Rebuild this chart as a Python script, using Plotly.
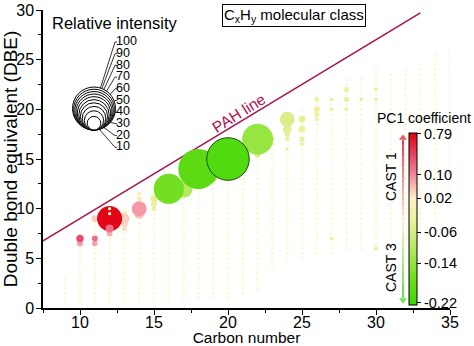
import plotly.graph_objects as go
import numpy as np

# ---------------- data ----------------
# faint dotted columns of assigned CxHy formulas: carbon number, lowest and highest DBE seen
faint_c = [9, 10, 11, 12, 13, 14, 15, 16, 17, 18, 19, 20, 21, 22, 23, 24, 25, 26, 27, 28, 29, 30, 31, 32, 33, 34, 35]
faint_low = [0.5, 0.5, 0.5, 0.5, 0.5, 0.5, 0.5, 0.5, 1, 1, 1, 1, 1.5, 2, 4, 5, 5, 5.5, 5.5, 6, 6, 6, 6.5, 7, 8, 9, 10]
faint_high = [3, 7.5, 8.5, 10, 10, 11, 12, 12, 13, 14, 15, 15, 16, 17, 17.5, 19.5, 20, 21, 21, 23, 23, 24, 23.5, 24, 24.5, 25.5, 26]
faint_int = 0.5
faint_col = 0.53

# visible bubbles (draw order): carbon number, DBE, relative intensity, colour position on the PC1 bar (0 bottom .. 1 top)
bub_c = [23, 23, 24, 24, 24, 24, 24, 25, 25, 25, 25, 26, 26, 26, 26, 27, 27, 28, 28, 28, 29, 30, 30, 30, 27,
         21, 22, 22, 19, 20, 18, 16, 15, 15, 15, 14, 14, 13, 13, 13, 11, 10, 11, 12, 13, 14, 14, 10, 11,
         17, 16, 22, 18, 20, 12, 12, 12, 12]
bub_dbe = [16.5, 17, 16, 17, 17.5, 18, 19, 16.5, 17, 18, 19, 19, 19.5, 20, 21, 20, 21, 20, 21, 22, 21, 21, 22, 6, 7,
           15, 15.5, 16, 13, 13, 12.5, 11, 10, 10.5, 11, 11, 11.5, 8, 8.5, 9.5, 9, 6.5, 6.5, 7.5, 9, 9.5, 10, 7, 7,
           12, 12, 17, 14, 15, 9, 8, 9.5, 10]
bub_int = [0.6, 0.9, 0.6, 1.0, 1.5, 4, 12, 0.8, 1.5, 2.5, 2.5, 0.8, 1.4, 2, 1.2, 0.8, 0.8, 0.9, 1.5, 1.4, 0.7, 0.8, 0.9, 1.2, 0.8,
           2.5, 2.5, 4, 2.5, 1.5, 4, 1.5, 1.3, 2, 2.6, 1.3, 0.8, 1.4, 2.6, 2, 2.6, 2.0, 1.6, 2, 5.4, 5.4, 12, 3, 2,
           17.5, 49, 52, 87, 98, 34, 3.5, 0.6, 0.6]
bub_col = [0.5, 0.48, 0.5, 0.5, 0.48, 0.46, 0.44, 0.5, 0.5, 0.5, 0.48, 0.5, 0.5, 0.5, 0.5, 0.5, 0.5, 0.5, 0.5, 0.5, 0.5, 0.5, 0.5, 0.52, 0.52,
           0.4, 0.42, 0.38, 0.38, 0.42, 0.36, 0.42, 0.5, 0.5, 0.48, 0.55, 0.55, 0.64, 0.65, 0.6, 0.66, 0.72, 0.72, 0.7, 0.66, 0.68, 0.73, 0.86, 0.8,
           0.33, 0.16, 0.25, 0.1, 0.07, 0.99, 0.8, 0.58, 0.58]

# PAH line (carbon number, DBE)
pah_c = [7.0, 33.0]
pah_dbe = [6.3, 29.7]

# size legend
legend_int = [100, 90, 80, 70, 60, 50, 40, 30, 20, 10]

# PC1 colour bar labels and their positions along the bar
pc1_labels = ["0.79", "0.10", "0.02", "-0.06", "-0.14", "-0.22"]
pc1_pos = [0.995, 0.756, 0.622, 0.424, 0.244, 0.012]

# ---------------- styling ----------------
FONT = "Arial, Liberation Sans, sans-serif"
K = 4.3  # px diameter per sqrt(intensity)
W, H = 474, 346
L, R, T, B = 43, 24, 10, 38
PW, PH = W - L - R, H - T - B

def px(x):
    return (x - L) / PW

def py(y):
    return (H - B - y) / PH

def ox(x):  # pixel -> overlay axis unit
    return x - L

def oy(y):
    return H - B - y

colorscale = [[0.0, '#3cd808'], [0.12, '#62dc16'], [0.24, '#92e43c'], [0.42, '#d6ee84'],
              [0.52, '#f2f0a0'], [0.62, '#fbf0c8'], [0.75, '#f28aa0'], [0.88, '#e8405e'], [1.0, '#e00010']]

fig = go.Figure()

# faint dots
fx, fy = [], []
for c, lo, hi in zip(faint_c, faint_low, faint_high):
    for d in np.arange(lo, hi + 0.01, 0.5):
        fx.append(c)
        fy.append(float(d))
fig.add_trace(go.Scatter(
    x=fx, y=fy, mode='markers', hoverinfo='skip', showlegend=False,
    marker=dict(size=K * np.sqrt(faint_int), color=[faint_col] * len(fx), coloraxis='coloraxis',
                opacity=0.4, line=dict(width=0))))

# PAH line
fig.add_trace(go.Scatter(x=pah_c, y=pah_dbe, mode='lines', showlegend=False, hoverinfo='skip',
                         line=dict(color='#a8124c', width=1.5)))

# bubbles
lw = [1.0 if (c == 20 and d == 15) else 0 for c, d in zip(bub_c, bub_dbe)]
fig.add_trace(go.Scatter(
    x=bub_c, y=bub_dbe, mode='markers', showlegend=False, cliponaxis=False,
    marker=dict(size=[K * np.sqrt(v) for v in bub_int], color=bub_col, coloraxis='coloraxis',
                opacity=1, line=dict(width=lw, color='#1d4d12'))))

# size legend on a pixel-unit overlay axis
cx = ox(94)
bottom = oy(130)
lab_y = [oy(42 + i * 11.7) for i in range(len(legend_int))]
lab_x = ox(115)
sizes = [K * np.sqrt(v) for v in legend_int]
cys = [bottom + s / 2 for s in sizes]
for s, cy, ly in zip(sizes, cys, lab_y):
    r = s / 2
    dx, dy = lab_x - cx, ly - cy
    n = np.hypot(dx, dy)
    sx, sy = cx + r * dx / n, cy + r * dy / n
    fig.add_trace(go.Scatter(x=[sx, lab_x, lab_x + 2], y=[sy, ly, ly], mode='lines', xaxis='x2', yaxis='y2',
                             showlegend=False, hoverinfo='skip', line=dict(color='black', width=0.8)))
fig.add_trace(go.Scatter(
    x=[cx] * len(sizes), y=cys, mode='markers', xaxis='x2', yaxis='y2', showlegend=False, hoverinfo='skip',
    marker=dict(size=sizes, color='white', line=dict(color='black', width=1), opacity=1)))
fig.add_trace(go.Scatter(
    x=[lab_x + 1] * len(legend_int), y=lab_y, mode='text', xaxis='x2', yaxis='y2', showlegend=False,
    text=[str(v) for v in legend_int], textposition='middle right', hoverinfo='skip',
    textfont=dict(family=FONT, size=12.5, color='black')))

# gradient arrow (CAST 1 up / CAST 3 down) on the overlay axis
top_c, mid_c, bot_c = np.array([232, 16, 42]), np.array([250, 240, 215]), np.array([60, 208, 16])
ys = np.linspace(140, 298, 30)
for i in range(len(ys) - 1):
    t = (ys[i] - 140) / (298 - 140)
    if t < 0.5:
        col = top_c + (mid_c - top_c) * (t / 0.5)
    else:
        col = mid_c + (bot_c - mid_c) * ((t - 0.5) / 0.5)
    fig.add_trace(go.Scatter(x=[ox(403), ox(403)], y=[oy(ys[i]), oy(ys[i + 1])], mode='lines',
                             xaxis='x2', yaxis='y2', showlegend=False, hoverinfo='skip',
                             line=dict(color='rgb(%d,%d,%d)' % tuple(col.astype(int)), width=1.6)))
fig.add_trace(go.Scatter(x=[ox(403), ox(403)], y=[oy(138), oy(300)], mode='markers', xaxis='x2', yaxis='y2',
                         showlegend=False, hoverinfo='skip', cliponaxis=False,
                         marker=dict(symbol=['triangle-up', 'triangle-down'], size=[7, 7],
                                     color=['#e8102a', '#3cd010'], line=dict(width=0))))

axis_common = dict(showline=True, linecolor='black', linewidth=1.5, ticks='outside', ticklen=5,
                   tickwidth=1.3, tickcolor='black', showgrid=False, zeroline=False, automargin=False,
                   tickfont=dict(family=FONT, size=16, color='black'),
                   minor=dict(ticks='outside', ticklen=3, tickwidth=1.2, tickcolor='black', dtick=2.5))

fig.update_layout(
    width=W, height=H, autosize=False,
    margin=dict(l=L, r=R, t=T, b=B, autoexpand=False),
    paper_bgcolor='white', plot_bgcolor='white',
    font=dict(family=FONT, color='black'),
    xaxis=dict(range=[7.5, 35], tick0=10, dtick=5, ticklabelstandoff=-6, **axis_common,
               title=dict(text='Carbon number', font=dict(family=FONT, size=15.5), standoff=4)),
    yaxis=dict(range=[0, 30], tick0=0, dtick=5, ticklabelstandoff=-1, **axis_common,
               title=dict(text='Double bond equivalent (DBE)', font=dict(family=FONT, size=19), standoff=0)),
    xaxis2=dict(range=[0, PW], overlaying='x', visible=False, anchor='y2'),
    yaxis2=dict(range=[0, PH], overlaying='y', visible=False, anchor='x2'),
    coloraxis=dict(
        colorscale=colorscale, cmin=0, cmax=1,
        colorbar=dict(x=px(409), xanchor='left', y=py(219), yanchor='middle',
                      len=172 / PH, lenmode='fraction', thickness=8, thicknessmode='pixels',
                      outlinewidth=1, outlinecolor='black', xpad=0, ypad=0,
                      tickvals=pc1_pos, ticktext=pc1_labels, ticks='outside', ticklen=4,
                      tickcolor='black', tickfont=dict(family=FONT, size=14.5, color='black'))),
)

def note(xp, yp, text, size=13, color='black', angle=0, **kw):
    return dict(x=px(xp), y=py(yp), xref='paper', yref='paper', showarrow=False,
                xanchor='center', yanchor='middle', text=text, textangle=angle,
                font=dict(family=FONT, size=size, color=color), **kw)

ann = [
    note(294, 16, 'C<sub>x</sub>H<sub>y</sub> molecular class', size=15,
         bordercolor='black', borderwidth=1, borderpad=1, bgcolor='white'),
    note(114, 23, 'Relative intensity', size=16.5),
    note(238, 113, 'PAH line', size=15.5, color='#b0104e', angle=-32),
    note(424, 118, 'PC1 coefficient', size=14),
    note(391, 177, 'CAST 1', size=14, angle=-90),
    note(391, 268, 'CAST 3', size=14, angle=-90),
]
fig.update_layout(annotations=ann)

fig.write_html("out.html")
